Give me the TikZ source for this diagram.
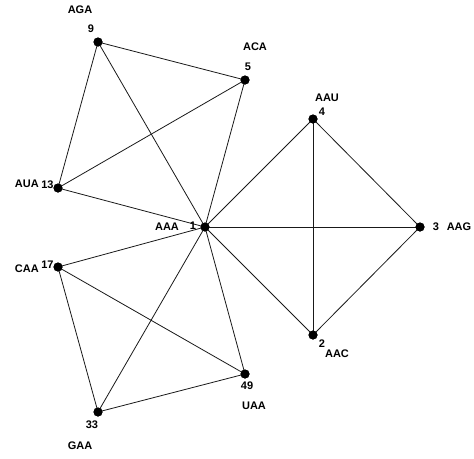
\documentclass[tikz,border=0pt]{standalone}
\usepackage{fontspec}
\setmainfont{Liberation Sans}
\usetikzlibrary{positioning}

\begin{document}
\begin{tikzpicture}[
  x=1pt,y=-1pt,
  font=\bfseries\fontsize{11}{13}\selectfont,
  edge/.style={line width=0.8pt,draw=black!90},
  dot/.style={circle,fill=black,inner sep=0pt,minimum size=9pt},
  lbl/.style={inner sep=0pt}
]
\useasboundingbox (0,0) rectangle (474,458);

% ---- vertices ----
\foreach \n/\x/\y in {1/205/227, 9/98/42, 5/245/80, 13/58/188,
                      17/58/267, 49/245/374, 33/98/412,
                      4/313/119, 3/420/227, 2/313/335} {
  \node[dot] (v\n) at (\x,\y) {};
}

% ---- edges (three K4 around vertex 1) ----
\foreach \a/\b in {1/9, 1/5, 1/13, 9/5, 9/13, 5/13,
                   1/17, 1/49, 1/33, 17/49, 17/33, 33/49,
                   1/4, 1/3, 1/2, 4/3, 4/2, 3/2} {
  \draw[edge] (v\a.center) -- (v\b.center);
}
\foreach \n in {1,9,5,13,17,49,33,4,3,2} {
  \node[dot] at (v\n) {};
}

% ---- numbers ----
\node[lbl] (n1)  at (193,226) {1};
\node[lbl] (n9)  at (91,29)   {9};
\node[lbl] (n5)  at (248,67)  {5};
\node[lbl] (n13) at (47.5,185) {13};
\node[lbl] (n17) at (47.5,265) {17};
\node[lbl] (n49) at (247,386) {49};
\node[lbl] (n33) at (92,425)  {33};
\node[lbl] (n4)  at (322,112) {4};
\node[lbl] (n3)  at (436,227) {3};
\node[lbl] (n2)  at (322,344) {2};

% ---- codons ----
\node[lbl] (c1)  at (167,227) {AAA};
\node[lbl] (c9)  at (80,10)   {AGA};
\node[lbl] (c5)  at (255,47)  {ACA};
\node[lbl,anchor=east] (c13) at (39,184) {AUA};
\node[lbl,anchor=east] (c17) at (39,269) {CAA};
\node[lbl] (c49) at (254,406) {UAA};
\node[lbl] (c33) at (80,446)  {GAA};
\node[lbl] (c4)  at (327,98)  {AAU};
\node[lbl] (c3)  at (459,227) {AAG};
\node[lbl] (c2)  at (337,354) {AAC};

\end{tikzpicture}
\end{document}
